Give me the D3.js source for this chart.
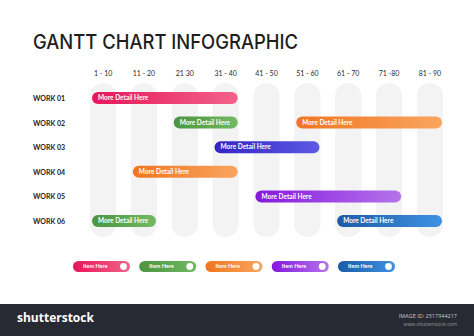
<!DOCTYPE html>
<html>
<head>
<meta charset="utf-8">
<script src="https://cdn.jsdelivr.net/npm/d3@7/dist/d3.min.js"></script>
<style>
  html, body { margin: 0; padding: 0; background: #ffffff; }
  svg { display: block; }
</style>
</head>
<body>
<svg id="chart" width="474" height="336"></svg>
<script>
// Time periods shown as columns
const periods = ["1 - 10", "11 - 20", "21 30", "31 - 40", "41 - 50", "51 - 60", "61 - 70", "71 -80", "81 - 90"];
// Work packages (rows)
const works = ["WORK 01", "WORK 02", "WORK 03", "WORK 04", "WORK 05", "WORK 06"];
// Task bars: row, first period index, last period index, colour theme
const taskWork  = ["WORK 01", "WORK 02", "WORK 02", "WORK 03", "WORK 04", "WORK 05", "WORK 06", "WORK 06"];
const taskStart = [0, 2, 5, 3, 1, 4, 0, 6];
const taskEnd   = [3, 3, 8, 5, 3, 7, 1, 8];
const taskTheme = ["pink", "green", "orange", "indigo", "orange", "purple", "green", "blue"];
const taskLabel = "More Detail Here";
// Legend items
const legendThemes = ["pink", "green", "orange", "purple", "blue"];
const legendLabel = "Item Here";

const themes = {
  pink:   ["#e5175a", "#f3628a"],
  green:  ["#4a9540", "#72b962"],
  orange: ["#f07520", "#faa560"],
  indigo: ["#3424c4", "#5d5ae2"],
  purple: ["#8518df", "#b573ea"],
  blue:   ["#1b5ba6", "#3f92e2"]
};

const svg = d3.select("#chart");
const font = "'Lato', 'Open Sans', sans-serif";

// Gradients for each theme
const defs = svg.append("defs");
Object.entries(themes).forEach(([k, c]) => {
  const g = defs.append("linearGradient").attr("id", "g-" + k)
    .attr("x1", "0%").attr("x2", "100%").attr("y1", "0%").attr("y2", "0%");
  g.append("stop").attr("offset", "0%").attr("stop-color", c[0]);
  g.append("stop").attr("offset", "100%").attr("stop-color", c[1]);
});

// Scales
const x = d3.scaleBand().domain(d3.range(periods.length)).range([90, 443]).paddingInner(0.36).paddingOuter(0);
const y = d3.scalePoint().domain(works).range([98, 221]);
const barH = 12;

// Title
svg.append("text")
  .attr("x", 33).attr("y", 49)
  .attr("font-family", "'Inter', 'Lato', sans-serif").attr("font-size", 20).attr("font-weight", 500)
  .attr("fill", "#1e1e1e").attr("textLength", 265).attr("lengthAdjust", "spacingAndGlyphs")
  .text("GANTT CHART INFOGRAPHIC");

// Background columns
svg.append("g").selectAll("rect").data(periods).join("rect")
  .attr("x", (d, i) => x(i)).attr("width", x.bandwidth())
  .attr("y", 83).attr("height", 154)
  .attr("rx", x.bandwidth() / 2)
  .attr("fill", "#f3f3f4");

// Period header labels
const header = d3.axisTop(x).tickSize(0).tickFormat(i => periods[i]);
const hx = svg.append("g").attr("transform", "translate(0,79)").call(header);
hx.select(".domain").remove();
hx.selectAll("text").attr("font-family", font).attr("font-size", 7).attr("fill", "#2a2a2a");

// Row labels
const rowAxis = d3.axisLeft(y).tickSize(0);
const ry = svg.append("g").attr("transform", "translate(33,0)").call(rowAxis);
ry.select(".domain").remove();
ry.selectAll("text").attr("text-anchor", "start").attr("x", 0).attr("dy", "0.35em")
  .attr("font-family", font).attr("font-size", 7).attr("font-weight", 700).attr("fill", "#222");

// Task bars
const tasks = taskWork.map((w, i) => ({ w, s: taskStart[i], e: taskEnd[i], t: taskTheme[i] }));
const bars = svg.append("g").selectAll("g").data(tasks).join("g")
  .attr("transform", d => `translate(${x(d.s) + 2},${y(d.w) - barH / 2})`);
bars.append("rect")
  .attr("width", d => x(d.e) + x.bandwidth() - x(d.s) - 3)
  .attr("height", barH).attr("rx", barH / 2)
  .attr("fill", d => `url(#g-${d.t})`);
bars.append("text")
  .attr("x", 6).attr("y", barH / 2).attr("dy", "0.35em")
  .attr("font-family", font).attr("font-size", 6.5).attr("font-weight", 700)
  .attr("fill", "#fff").text(taskLabel);

// Legend
const lx = d3.scalePoint().domain(d3.range(legendThemes.length)).range([73, 338]);
const legW = 57, legH = 11;
const leg = svg.append("g").selectAll("g").data(legendThemes).join("g")
  .attr("transform", (d, i) => `translate(${lx(i)},${261})`);
leg.append("rect").attr("width", legW).attr("height", legH).attr("rx", legH / 2)
  .attr("fill", d => `url(#g-${d})`);
leg.append("circle").attr("cx", legW - 6.5).attr("cy", legH / 2).attr("r", 3.4).attr("fill", "#fff");
leg.append("text").attr("x", 10).attr("y", legH / 2).attr("dy", "0.35em")
  .attr("font-family", font).attr("font-size", 5.5).attr("font-weight", 700)
  .attr("fill", "#fff").text(legendLabel);

// Footer band
svg.append("rect").attr("x", 0).attr("y", 304).attr("width", 474).attr("height", 32).attr("fill", "#272a32");
svg.append("text").attr("x", 17).attr("y", 322)
  .attr("font-family", "'Open Sans', sans-serif").attr("font-size", 12).attr("font-weight", 700)
  .attr("fill", "#fff").text("shutterstock");
svg.append("text").attr("x", 457).attr("y", 318).attr("text-anchor", "end")
  .attr("font-family", "'Open Sans', sans-serif").attr("font-size", 5.5)
  .attr("fill", "#c8c8c8").text("IMAGE ID: 2517944217");
svg.append("text").attr("x", 457).attr("y", 326).attr("text-anchor", "end")
  .attr("font-family", "'Open Sans', sans-serif").attr("font-size", 5)
  .attr("fill", "#9a9a9a").text("www.shutterstock.com");
</script>
</body>
</html>
